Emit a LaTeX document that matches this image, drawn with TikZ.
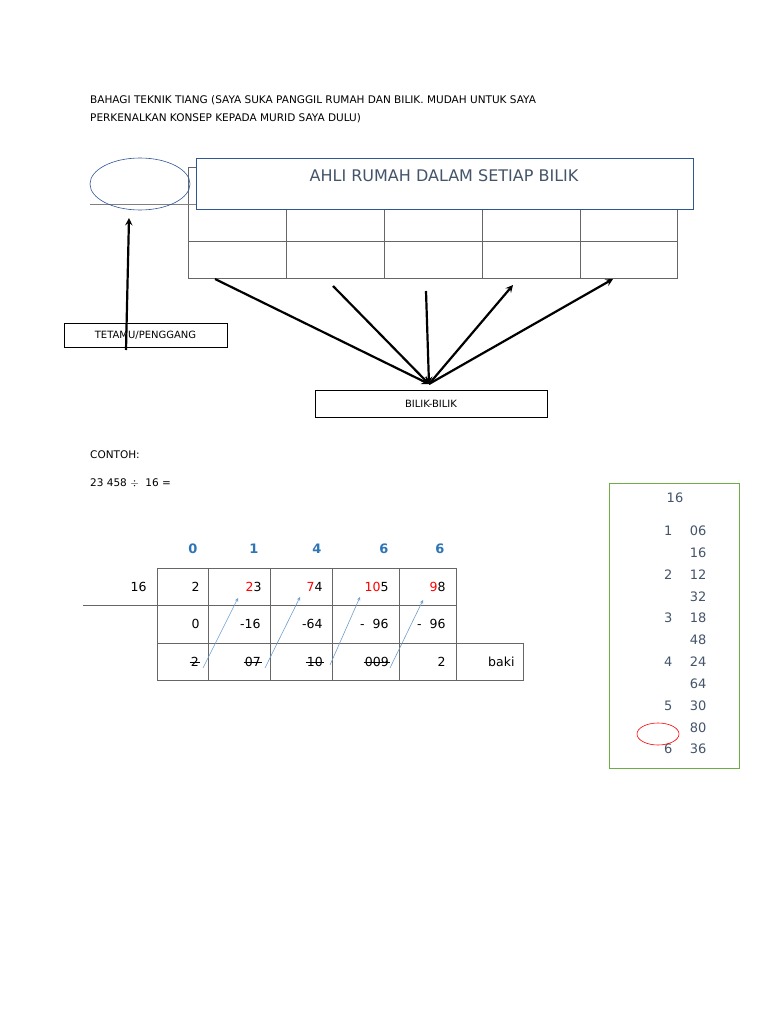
\documentclass[tikz,border=0pt]{standalone}
\usepackage{fontspec}
\setmainfont{DejaVu Sans}
\usepackage{amsmath}
\usetikzlibrary{positioning, arrows, shapes.geometric}
\definecolor{slate}{HTML}{44546A}
\definecolor{quotblue}{HTML}{2E75B6}
\definecolor{boxblue}{HTML}{2F5597}
\definecolor{framegreen}{HTML}{70AD47}
\tikzstyle{arrow} = [line width=2.2pt,->,>=stealth]
\tikzstyle{thinarrow} = [->,>=stealth,draw=quotblue!70,semithick]

\begin{document}
\begin{tikzpicture}[x=1pt,y=-1pt]
  \tikzstyle{every node}=[font=\fontsize{10.5}{12}\selectfont]
  \tikzstyle{labelbox} = [draw, semithick, font=\fontsize{10}{12}\selectfont, inner sep=0pt]
  \tikzstyle{cell} = [anchor=east, font=\fontsize{12.5}{14}\selectfont]
  \useasboundingbox (0,0) rectangle (768,1024);

  % heading
  \node[anchor=west, inner sep=0pt](title1) at (90,100) {BAHAGI TEKNIK TIANG (SAYA SUKA PANGGIL RUMAH DAN BILIK. MUDAH UNTUK SAYA};
  \node[anchor=west, inner sep=0pt](title2) at (90,118) {PERKENALKAN KONSEP KEPADA MURID SAYA DULU)};

  % rumah table
  \draw[gray!80!black, semithick] (188,167) rectangle (677,278);
  \draw[gray!80!black, semithick] (188,241) -- (677,241);
  \foreach \x in {286,384,482,580}
    \draw[gray!80!black, semithick] (\x,167) -- (\x,278);
  \draw[gray, semithick] (90,204) -- (196,204);
  \node[draw=boxblue, semithick, fill=white, minimum width=497pt, minimum height=51pt, anchor=north west,
        inner sep=0pt](ahli) at (196,158) {};
  \node[font=\fontsize{16}{18}\selectfont, text=slate](ahlitext) at (444,176) {AHLI RUMAH DALAM SETIAP BILIK};
  \node[draw=boxblue, semithick, ellipse, minimum width=100pt, minimum height=52pt](tetamu) at (140,184) {};

  \node[labelbox, minimum width=163pt, minimum height=24pt](pengang) at (145.5,335) {TETAMU/PENGGANG};
  \coordinate (gtop) at (129,218);
  \coordinate (gbot) at (126,350);
  \draw[arrow] (gbot) -- (gtop);

  \node[labelbox, minimum width=232pt, minimum height=27pt](bilik) at (431,403.5) {BILIK-BILIK};
  \coordinate (hub) at (429,384);
  \coordinate (a1) at (215,279);
  \coordinate (a2) at (333,286);
  \coordinate (a3) at (426,291);
  \coordinate (a4) at (513,285);
  \coordinate (a5) at (613,279);
  \draw[arrow] (a1) -- (hub);
  \draw[arrow] (a2) -- (hub);
  \draw[arrow] (a3) -- (hub);
  \draw[arrow] (hub) -- (a4);
  \draw[arrow] (hub) -- (a5);

  % contoh
  \node[anchor=west, inner sep=0pt](contoh) at (90,455) {CONTOH:};
  \node[anchor=west, inner sep=0pt](soalan) at (90,483) {23 458 $\div$\ \ 16 =};

  % bahagi table
  \draw[gray!80!black, semithick] (157,568) rectangle (456,643);
  \draw[gray!80!black, semithick] (157,605) -- (456,605);
  \draw[gray!80!black, semithick] (157,643) rectangle (523,680);
  \foreach \x in {208,270,332,399}
    \draw[gray!80!black, semithick] (\x,568) -- (\x,680);
  \draw[gray!80!black, semithick] (456,643) -- (456,680);
  \draw[gray!80!black, semithick] (83,605) -- (157,605);
  \node[cell](pembahagi) at (150,587) {16};
  \foreach \x/\d in {201/0,262/1,325/4,392/6,448/6}
    \node[cell, text=quotblue, font=\fontsize{13}{15}\selectfont\bfseries] at (\x,549) {\d};
  \node[cell](r1a) at (203,587) {2};
  \node[cell](r1b) at (265,587) {\textcolor{red}{2}3};
  \node[cell](r1c) at (326,587) {\textcolor{red}{7}4};
  \node[cell](r1d) at (392,587) {\textcolor{red}{10}5};
  \node[cell](r1e) at (449,587) {\textcolor{red}{9}8};
  \node[cell](r2a) at (203,624) {0};
  \node[cell](r2b) at (264,624) {-16};
  \node[cell](r2c) at (326,624) {-64};
  \node[cell](r2d) at (392,624) {-\ \ 96};
  \node[cell](r2e) at (449,624) {-\ \ 96};
  \node[cell, inner sep=1pt](r3a) at (200,662) {2};
  \node[cell, inner sep=1pt](r3b) at (262,662) {07};
  \node[cell, inner sep=1pt](r3c) at (324,662) {10};
  \node[cell, inner sep=1pt](r3d) at (390,662) {009};
  \node[cell](r3e) at (449,662) {2};
  \node[cell](baki) at (518,662) {baki};
  \foreach \n in {r3a,r3b,r3c,r3d}
    \draw[semithick] ([yshift=-0.5pt]\n.west) -- ([yshift=-0.5pt]\n.east);
  \draw[thinarrow] (203,668) -- (238,598);
  \draw[thinarrow] (265,668) -- (300,597);
  \draw[thinarrow] (330,665) -- (360,597);
  \draw[thinarrow] (390,668) -- (423,600);

  % sifir box
  \draw[framegreen, semithick] (609,483) rectangle (739,768);
  \node[text=slate, font=\fontsize{13}{15}\selectfont](sifir) at (675,498) {16};
  \foreach \y/\k/\v in {531/1/06,553//16,575/2/12,597//32,618/3/18,640//48,662/4/24,684//64,706/5/30,728//80,749/6/36}{
    \node[text=slate, font=\fontsize{13}{15}\selectfont, anchor=east] at (676,\y) {\k};
    \node[text=slate, font=\fontsize{13}{15}\selectfont, anchor=east] at (710,\y) {\v};
  }
  \draw[red, semithick] (658,734) ellipse (21pt and 11pt);
\end{tikzpicture}
\end{document}
